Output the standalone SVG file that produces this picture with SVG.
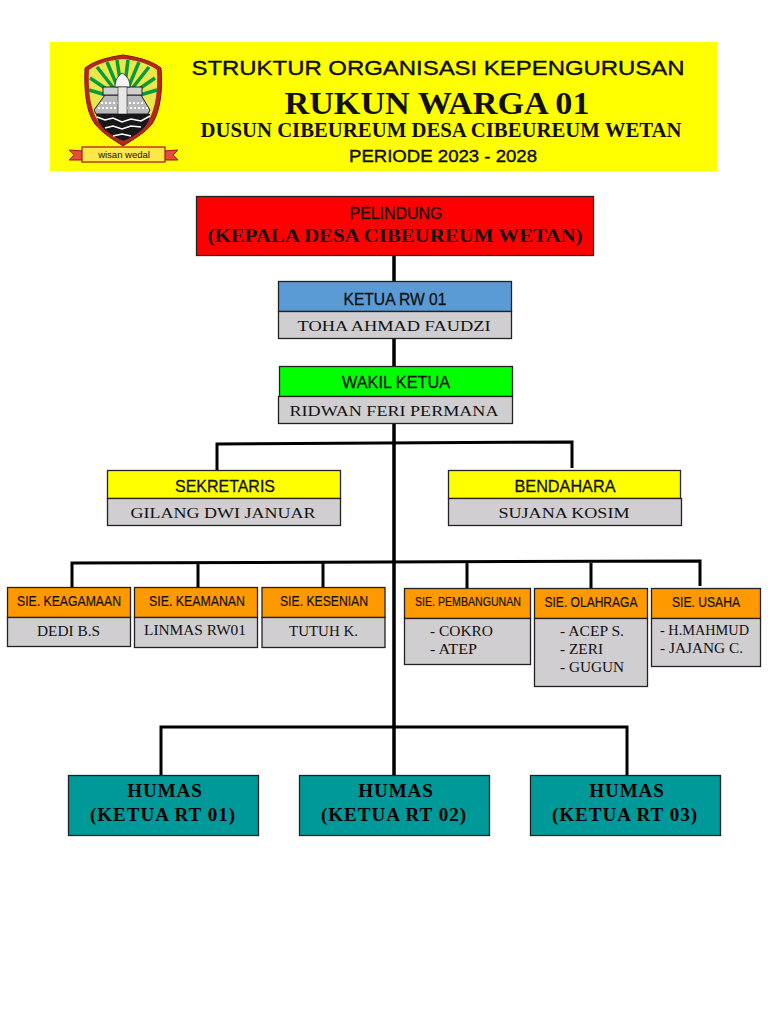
<svg xmlns="http://www.w3.org/2000/svg" width="768" height="1024" viewBox="0 0 768 1024">
<style>
.b{stroke:#222;stroke-width:1.3}
.g{fill:#d0ced0}
.o{fill:#ff9900}
.y{fill:#ffff00}
.t{fill:#009999}
text{text-anchor:middle;fill:#111}
.s{font-family:"Liberation Sans",Arial,sans-serif;stroke:#000;stroke-width:.35}
.r{font-family:"Liberation Serif","Times New Roman",serif}
.n{font-size:15.5px;font-family:"Liberation Serif","Times New Roman",serif}
.m{font-size:14.5px;font-family:"Liberation Serif","Times New Roman",serif;text-anchor:start}
.l{font-family:"Liberation Sans",Arial,sans-serif;font-size:16.5px;stroke:#111;stroke-width:.3}
.k{font-family:"Liberation Sans",Arial,sans-serif;font-size:14px;stroke:#111;stroke-width:.2}
.h{font-family:"Liberation Serif","Times New Roman",serif;font-size:19px;font-weight:bold;letter-spacing:1px;fill:#000}
.c{fill:none;stroke:#000;stroke-width:3}
.c2{fill:none;stroke:#000;stroke-width:3.5}
</style>
<rect width="768" height="1024" fill="#fff"/>
<g id="connectors">
<path class="c2" d="M394 255V281M394 338V366M394 423V775"/>
<path class="c" d="M217 470V444L572 442V468"/>
<path class="c" d="M72 587V563L700 561V586M198 563V587M323 563V587M467 562V588M591 562V588"/>
<path class="c" d="M161 775V727H627V775"/>
</g>
<g id="header">
<rect x="50" y="42" width="667" height="129" fill="#ffff00"/>
<text class="s" x="438" y="75" font-size="20.5" textLength="493" lengthAdjust="spacingAndGlyphs">STRUKTUR ORGANISASI KEPENGURUSAN</text>
<text class="r" x="437" y="114" font-size="31" font-weight="bold" fill="#000" textLength="305" lengthAdjust="spacingAndGlyphs">RUKUN WARGA 01</text>
<text class="r" x="441" y="137" font-size="20" font-weight="bold" fill="#000" textLength="481" lengthAdjust="spacingAndGlyphs">DUSUN CIBEUREUM DESA CIBEUREUM WETAN</text>
<text class="s" x="443" y="162" font-size="16" textLength="188" lengthAdjust="spacingAndGlyphs">PERIODE 2023 - 2028</text>
</g>
<g id="logo">
<path d="M123 55C110 57 95 60 85 68C84 90 86 112 95 124C103 134 114 140 123 146C132 140 144 134 152 124C160 112 163 90 161 68C151 60 136 57 123 55Z" fill="#b5261e" stroke="#7a1a14"/>
<path d="M123 59C111 60 98 63 89 70C88 89 90 109 98 121C105 130 115 136 123 141C131 136 141 130 148 121C156 109 158 89 157 70C148 63 135 60 123 59Z" fill="#e8e84a"/>
<path d="M123 100L97 67M123 100L107 62M123 100L117 60M123 100L128 60M123 100L139 62M123 100L149 67M123 100L155 78M123 100L157 90M123 100L90 78M123 100L89 90" stroke="#0a9a3c" stroke-width="3.5" fill="none"/>
<path d="M94 110L105 95H141L150 110L148 114H96Z" fill="#b9b9b9" stroke="#222"/>
<path d="M98 108H148M101 103H145" stroke="#fff" stroke-width="2" stroke-dasharray="2 2" fill="none"/>
<rect x="103" y="87" width="39" height="8" fill="#cfcfcf" stroke="#222"/>
<path d="M115 87C115 80 118 76 122 73C127 76 130 80 130 87Z" fill="#f4f4f4" stroke="#222" stroke-width=".8"/>
<rect x="118" y="87" width="9" height="27" fill="#e8e8e8" stroke="#222" stroke-width=".6"/>
<path d="M96 114H150C150 120 147 125 142 130C135 136 128 139 123 141C116 138 110 134 105 130C100 125 97 120 96 114Z" fill="#17171a"/>
<path d="M97 117L105 120L113 118L122 122L131 119L141 121L150 116M105 128L113 126L122 129L131 126L141 127M113 136L122 134L131 136" fill="none" stroke="#fff" stroke-width="1.5"/>
<path d="M69 150L83 151V160H69L74 155Z M178 150L164 151V160H178L173 155Z" fill="#e0503a" stroke="#a12"/>
<rect x="82" y="147" width="83" height="15" fill="#ffe84a" stroke="#a12" stroke-width="1.200"/>
<text x="124" y="158" font-family="Liberation Sans,sans-serif" font-size="9.500" fill="#333">wisan wedal</text>
</g>
<g id="pelindung">
<rect class="b" x="196.500" y="196.500" width="397" height="59" fill="#ff0000"/>
<text class="l" x="396" y="219" textLength="93" lengthAdjust="spacingAndGlyphs">PELINDUNG</text>
<text class="r" x="395" y="242" font-size="19" font-weight="bold" fill="#300" textLength="375" lengthAdjust="spacingAndGlyphs">(KEPALA DESA CIBEUREUM WETAN)</text>
</g>
<g id="ketua">
<rect class="b" x="278.500" y="281.500" width="233" height="30" fill="#5b9bd5"/>
<rect class="b g" x="278.500" y="311.500" width="233" height="27"/>
<text class="l" x="395" y="305" textLength="103" lengthAdjust="spacingAndGlyphs">KETUA RW 01</text>
<text class="n" x="394" y="331" textLength="193" lengthAdjust="spacingAndGlyphs">TOHA AHMAD FAUDZI</text>
</g>
<g id="wakil">
<rect class="b" x="279.500" y="366.500" width="233" height="30" fill="#00ff00"/>
<rect class="b g" x="278.500" y="396.500" width="234" height="27"/>
<text class="l" x="396" y="388" textLength="108" lengthAdjust="spacingAndGlyphs">WAKIL KETUA</text>
<text class="n" x="394" y="416" textLength="209" lengthAdjust="spacingAndGlyphs">RIDWAN FERI PERMANA</text>
</g>
<g id="sekretaris">
<rect class="b y" x="107.500" y="470.500" width="233" height="28"/>
<rect class="b g" x="107.500" y="498.500" width="233" height="27"/>
<text class="l" x="225" y="492" textLength="100" lengthAdjust="spacingAndGlyphs">SEKRETARIS</text>
<text class="n" x="223" y="518" textLength="185" lengthAdjust="spacingAndGlyphs">GILANG DWI JANUAR</text>
</g>
<g id="bendahara">
<rect class="b y" x="448.500" y="470.500" width="232" height="28"/>
<rect class="b g" x="448.500" y="498.500" width="233" height="27"/>
<text class="l" x="565" y="492" textLength="101" lengthAdjust="spacingAndGlyphs">BENDAHARA</text>
<text class="n" x="564" y="518" textLength="131" lengthAdjust="spacingAndGlyphs">SUJANA KOSIM</text>
</g>
<g id="sie-keagamaan">
<rect class="b o" x="7.500" y="587.500" width="123" height="30"/>
<rect class="b g" x="7.500" y="617.500" width="123" height="29"/>
<text class="k" x="69" y="606" textLength="104" lengthAdjust="spacingAndGlyphs">SIE. KEAGAMAAN</text>
<text class="m" x="37" y="636" textLength="63" lengthAdjust="spacingAndGlyphs">DEDI B.S</text>
</g>
<g id="sie-keamanan">
<rect class="b o" x="134.500" y="587.500" width="123" height="30"/>
<rect class="b g" x="134.500" y="617.500" width="123" height="30"/>
<text class="k" x="197" y="606" textLength="96" lengthAdjust="spacingAndGlyphs">SIE. KEAMANAN</text>
<text class="m" x="144" y="635" textLength="102" lengthAdjust="spacingAndGlyphs">LINMAS RW01</text>
</g>
<g id="sie-kesenian">
<rect class="b o" x="262" y="587.500" width="123" height="30"/>
<rect class="b g" x="262" y="617.500" width="123" height="30"/>
<text class="k" x="324" y="606" textLength="88" lengthAdjust="spacingAndGlyphs">SIE. KESENIAN</text>
<text class="m" x="289" y="636" textLength="69" lengthAdjust="spacingAndGlyphs">TUTUH K.</text>
</g>
<g id="sie-pembangunan">
<rect class="b o" x="404.500" y="588.500" width="126" height="30"/>
<rect class="b g" x="404.500" y="618.500" width="126" height="46"/>
<text class="k" x="468" y="606" style="font-size:12.500px" textLength="106" lengthAdjust="spacingAndGlyphs">SIE. PEMBANGUNAN</text>
<text class="m" x="430" y="636" textLength="63" lengthAdjust="spacingAndGlyphs">- COKRO</text>
<text class="m" x="430" y="654" textLength="47" lengthAdjust="spacingAndGlyphs">- ATEP</text>
</g>
<g id="sie-olahraga">
<rect class="b o" x="534.500" y="588.500" width="113" height="30"/>
<rect class="b g" x="534.500" y="618.500" width="113" height="68"/>
<text class="k" x="591" y="607" textLength="93" lengthAdjust="spacingAndGlyphs">SIE. OLAHRAGA</text>
<text class="m" x="560" y="636" textLength="64" lengthAdjust="spacingAndGlyphs">- ACEP S.</text>
<text class="m" x="560" y="654" textLength="43" lengthAdjust="spacingAndGlyphs">- ZERI</text>
<text class="m" x="560" y="672" textLength="64" lengthAdjust="spacingAndGlyphs">- GUGUN</text>
</g>
<g id="sie-usaha">
<rect class="b o" x="651.500" y="588.500" width="109" height="30"/>
<rect class="b g" x="651.500" y="618.500" width="109" height="48"/>
<text class="k" x="706" y="607" textLength="68" lengthAdjust="spacingAndGlyphs">SIE. USAHA</text>
<text class="m" x="660" y="635" textLength="89" lengthAdjust="spacingAndGlyphs">- H.MAHMUD</text>
<text class="m" x="660" y="653" textLength="83" lengthAdjust="spacingAndGlyphs">- JAJANG C.</text>
</g>
<g id="humas-1">
<rect class="b t" x="68.500" y="775.500" width="190" height="60"/>
<text class="h" x="165" y="797">HUMAS</text>
<text class="h" x="163" y="821">(KETUA RT 01)</text>
</g>
<g id="humas-2">
<rect class="b t" x="299.500" y="775.500" width="190" height="60"/>
<text class="h" x="396" y="797">HUMAS</text>
<text class="h" x="394" y="821">(KETUA RT 02)</text>
</g>
<g id="humas-3">
<rect class="b t" x="530.500" y="775.500" width="190" height="60"/>
<text class="h" x="627" y="797">HUMAS</text>
<text class="h" x="625" y="821">(KETUA RT 03)</text>
</g>
</svg>
